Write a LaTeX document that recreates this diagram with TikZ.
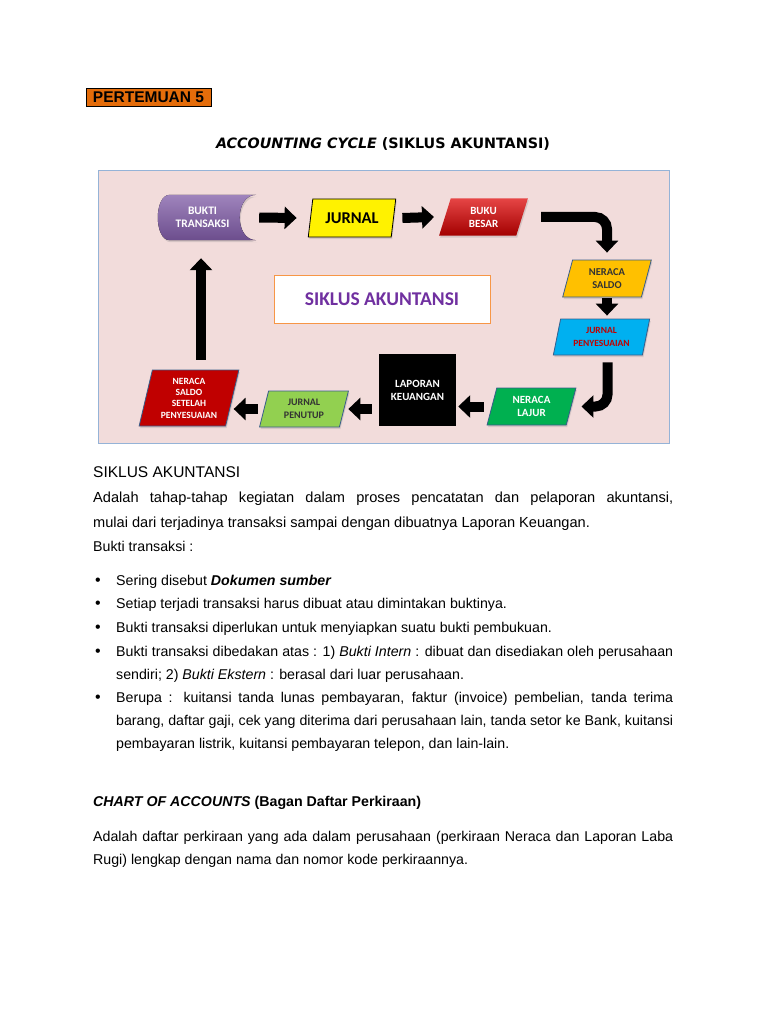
\documentclass[tikz,border=0pt]{standalone}
\usepackage{fontspec}
\setmainfont{Liberation Sans}
\newfontfamily\dejavu{DejaVu Sans}
\newfontfamily\cali{Carlito}
\usetikzlibrary{arrows.meta,positioning,calc,shapes.geometric,shadows}

\definecolor{framepink}{HTML}{F2DCDB}
\definecolor{frameblue}{HTML}{95B3D7}
\definecolor{headorange}{HTML}{E46C0A}
\definecolor{siklusviolet}{HTML}{7030A0}
\definecolor{boxorange}{HTML}{F79646}
\definecolor{buktiviolet}{HTML}{7F5BA6}
\definecolor{saldogold}{HTML}{FFC000}
\definecolor{penyblue}{HTML}{00B0F0}
\definecolor{darkred}{HTML}{C00000}
\definecolor{lajurgreen}{HTML}{00B050}
\definecolor{penutupgreen}{HTML}{92D050}
\definecolor{edgeblue}{HTML}{385D8A}

\tikzset{
  para/.style={trapezium, trapezium left angle=76, trapezium right angle=104,
    trapezium stretches=true, draw=edgeblue, line width=0.8pt,
    minimum width=89pt, minimum height=37pt, inner sep=1pt, align=center,
    font=\cali\bfseries\fontsize{9.5}{12.5}\selectfont,
    drop shadow={opacity=0.25, shadow xshift=1pt, shadow yshift=-2pt}},
  big/.style={font=\cali\bfseries\fontsize{#1}{13}\selectfont},
  blockarrow/.style={line width=10pt, -{Triangle[width=22pt,length=12pt]}},
  bodytext/.style={anchor=base west, inner sep=0pt, font=\fontsize{14.2}{16}\selectfont},
  bigtext/.style={anchor=base west, inner sep=0pt, font=\fontsize{14.6}{18}\selectfont},
  dot/.style={anchor=base, inner sep=0pt, font=\fontsize{16}{16}\selectfont}
}

\begin{document}
\begin{tikzpicture}[x=1pt, y=-1pt]
\useasboundingbox[fill=white] (0,0) rectangle (768,1024);

\node[draw=black, fill=headorange, minimum width=125pt, minimum height=18pt, inner sep=0pt,
  font=\bfseries\fontsize{15.5}{17}\selectfont] (pertemuan) at (148.5,97) {PERTEMUAN 5};
\node[font=\dejavu\bfseries\fontsize{14.3}{16}\selectfont, inner sep=0pt] (judulatas) at (383,144)
  {\itshape ACCOUNTING CYCLE \upshape (SIKLUS AKUNTANSI)};

\filldraw[fill=framepink, draw=frameblue, line width=0.8pt] (98,170) rectangle (669,443);

\node[minimum width=99pt, minimum height=45pt, inner sep=0pt] (bukti) at (206.5,217.5) {};
\fill[top color=buktiviolet!75!white, bottom color=buktiviolet!85!black,
  drop shadow={opacity=0.25, shadow xshift=1pt, shadow yshift=-2pt}]
  (bukti.north east) -- ([xshift=13pt]bukti.north west)
  .. controls ([xshift=-3pt]bukti.north west) and ([xshift=-3pt]bukti.south west) .. ([xshift=13pt]bukti.south west)
  -- (bukti.south east)
  .. controls ([xshift=-22pt]bukti.south east) and ([xshift=-22pt]bukti.north east) .. (bukti.north east) -- cycle;
\node[text=white, big=11.5, align=center] (buktitext)
  at ([xshift=-4pt]bukti.center) {BUKTI\\TRANSAKSI};

\node[para, fill=yellow, draw=black, minimum width=88pt, minimum height=38pt,
  font=\cali\bfseries\fontsize{16.5}{18}\selectfont] (jurnal) at (352,218) {JURNAL};
\node[para, draw=none, top color=red!70!white!90!black, bottom color=darkred!85!black,
  text=white, big=11] (buku) at (483.5,217) {BUKU\\BESAR};
\node[para, fill=saldogold, text=black!80, big=10.5] (saldo) at (607,278.5) {NERACA\\SALDO};
\node[para, fill=penyblue, text=darkred, minimum width=97pt, minimum height=36pt]
  (penyesuaian) at (601.5,337) {JURNAL\\PENYESUAIAN};
\node[para, fill=lajurgreen, text=white, big=11] (lajur) at (531.5,406.5) {NERACA\\LAJUR};
\node[fill=black, text=white, minimum width=77pt, minimum height=72pt, inner sep=0pt,
  align=center, big=11] (laporan) at (417.5,390) {LAPORAN\\KEUANGAN};
\node[para, fill=penutupgreen, text=black!80, minimum height=36pt, big=10] (penutup) at (304,409)
  {JURNAL\\PENUTUP};
\node[para, fill=darkred, text=white, minimum width=100pt, minimum height=56pt,
  font=\cali\bfseries\fontsize{9.5}{11.3}\selectfont] (setelah) at (189,398)
  {NERACA\\SALDO\\SETELAH\\PENYESUAIAN};

\node[draw=boxorange, fill=white, line width=1pt, minimum width=216pt, minimum height=48pt,
  text=siklusviolet, font=\cali\bfseries\fontsize{19.5}{22}\selectfont] (judul) at (382,299)
  {SIKLUS AKUNTANSI};

\begin{scope}[blockarrow]
\draw ([xshift=3pt]bukti.east) -- ([xshift=-13.5pt]jurnal.west);
\draw ([xshift=8.5pt]jurnal.east) -- ([xshift=-10.5pt]buku.west);
\draw[rounded corners=12pt] ([xshift=18.5pt]buku.east) -| ([yshift=7pt]saldo.north);
\draw ([yshift=-1pt]saldo.south) -- ([yshift=3pt]saldo.south |- penyesuaian.north);
\draw[rounded corners=12pt] ([xshift=6pt,yshift=-7pt]penyesuaian.south) |- ([xshift=10pt]lajur.east);
\draw ([xshift=-8pt]lajur.west) -- ([xshift=2pt]lajur.west -| laporan.east);
\draw ([xshift=-7pt]laporan.west |- penutup.east) -- ([xshift=4pt]penutup.east);
\draw ([xshift=-6pt]penutup.west) -- ([xshift=1pt]penutup.west -| setelah.east);
\draw ([xshift=12pt,yshift=10pt]setelah.north) -- ([xshift=12pt,yshift=-18pt]setelah.north |- bukti.south);
\end{scope}

\node[anchor=base west, inner sep=0pt, font=\fontsize{15.5}{18}\selectfont] (siklus) at (93,477) {SIKLUS AKUNTANSI};
\node[bigtext] (adalah1) at (93,502) {\makebox[580pt][s]{Adalah tahap-tahap kegiatan dalam proses pencatatan dan pelaporan akuntansi,}};
\node[bigtext] (adalah2) at (93,527) {mulai dari terjadinya transaksi sampai dengan dibuatnya Laporan Keuangan.};
\node[bodytext] (buktitr) at (93,551) {Bukti transaksi :};

\foreach \y/\n in {585/1, 608/2, 632/3, 656/4, 702/5}
  \node[dot] (dot\n) at (98,\y) {•};
\node[bodytext] (butir1) at (116,585) {Sering disebut \textbf{\textit{Dokumen sumber}}};
\node[bodytext] (butir2) at (116,608) {Setiap terjadi transaksi harus dibuat atau dimintakan buktinya.};
\node[bodytext] (butir3) at (116,632) {Bukti transaksi diperlukan untuk menyiapkan suatu bukti pembukuan.};
\node[bodytext] (butir4a) at (116,656) {\makebox[557pt][s]{Bukti transaksi dibedakan atas : 1) \textit{Bukti Intern} : dibuat dan disediakan oleh perusahaan}};
\node[bodytext] (butir4b) at (116,679) {sendiri; 2) \textit{Bukti Ekstern} : berasal dari luar perusahaan.};
\node[bodytext] (butir5a) at (116,702) {\makebox[557pt][s]{Berupa : kuitansi tanda lunas pembayaran, faktur (invoice) pembelian, tanda terima}};
\node[bodytext] (butir5b) at (116,725) {\makebox[557pt][s]{barang, daftar gaji, cek yang diterima dari perusahaan lain, tanda setor ke Bank, kuitansi}};
\node[bodytext] (butir5c) at (116,748) {pembayaran listrik, kuitansi pembayaran telepon, dan lain-lain.};

\node[bodytext] (chart) at (93,806) {\textbf{\textit{CHART OF ACCOUNTS}} \textbf{(Bagan Daftar Perkiraan)}};
\node[bodytext] (daftar1) at (93,841) {\makebox[580pt][s]{Adalah daftar perkiraan yang ada dalam perusahaan (perkiraan Neraca dan Laporan Laba}};
\node[bodytext] (daftar2) at (93,864) {Rugi) lengkap dengan nama dan nomor kode perkiraannya.};

\end{tikzpicture}
\end{document}
